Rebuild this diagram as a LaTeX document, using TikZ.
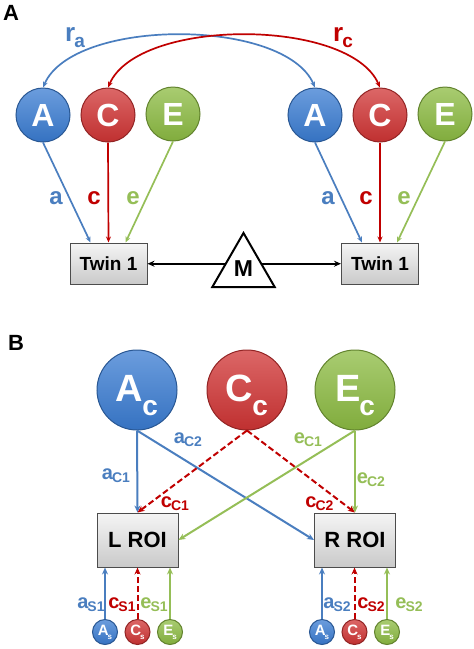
\documentclass[tikz,border=0pt]{standalone}
\usepackage{fontspec}
\setmainfont{Liberation Sans}
\usetikzlibrary{shapes,arrows.meta,calc}

\definecolor{acol}{HTML}{3A7CD2}
\definecolor{ccol}{HTML}{D03434}
\definecolor{ecol}{HTML}{8CBB42}
\definecolor{aline}{HTML}{4A7EBF}
\definecolor{cline}{HTML}{C00000}
\definecolor{eline}{HTML}{95BE57}

\newcommand{\fsz}[1]{\fontsize{#1}{#1}\selectfont\bfseries}
\newcommand{\sublab}[4]{#1\kern-1pt\raisebox{-#4pt}{\fsz{#3}#2}}

\begin{document}
\begin{tikzpicture}[x=1pt,y=-1pt,
    ball/.style={circle,inner sep=0pt,top color=#1!75!white,bottom color=#1!92!black,draw=#1!70!black,line width=1pt,text=white},
    ballA/.style={minimum size=54pt,font=\fsz{32}},
    ballB/.style={minimum size=80pt,font=\fsz{38},text height=37pt,text depth=15pt},
    ballS/.style={minimum size=25pt,font=\fsz{15}},
    roi/.style={rectangle,top color=gray!8,bottom color=gray!42,draw=gray!60!black,line width=1pt,font=\fsz{#1}},
    arr/.style={-{Stealth[length=6pt,width=5pt]},line width=1.7pt},
    arrtwo/.style={{Stealth[length=6pt,width=5pt]}-{Stealth[length=6pt,width=5pt]},line width=1.7pt},
    arrK/.style={-{Stealth[length=7pt,width=6pt]},line width=1.8pt,black},
    arrB/.style={-{Stealth[length=7pt,width=6pt]},line width=2pt},
    dashred/.style={dash pattern=on 6pt off 3pt},
    lab/.style={font=\fsz{#1},inner sep=0pt}
  ]
  \useasboundingbox (0,0) rectangle (474,649);

  % panel A
  \node[lab=22] (pA) at (11,12.5) {A};
  \node[ball=acol,ballA] (A1) at (43,115) {A};
  \node[ball=ccol,ballA] (C1) at (108,115) {C};
  \node[ball=ecol,ballA] (E1) at (173,114) {E};
  \node[ball=acol,ballA] (A2) at (315,115) {A};
  \node[ball=ccol,ballA] (C2) at (380,115) {C};
  \node[ball=ecol,ballA] (E2) at (445,114) {E};
  \node[roi=19,minimum width=77pt,minimum height=41pt] (T1) at (108.5,263.5) {Twin 1};
  \node[roi=19,minimum width=77pt,minimum height=41pt] (T2) at (380,263.5) {Twin 1};
  \node[regular polygon,regular polygon sides=3,draw,fill=white,line width=2pt,
        minimum size=72pt,inner sep=0pt,font=\fsz{23}] (M) at (243.5,269) {M};
  \coordinate (mL) at ($(M.corner 1)!0.574!(M.corner 2)$);
  \coordinate (mR) at ($(M.corner 1)!0.574!(M.corner 3)$);
  \draw[arrK] (mL) -- (T1.east |- mL);
  \draw[arrK] (mR) -- (T2.west |- mR);

  \draw[arr,aline] (A1.south) -- ([xshift=-18pt]T1.north);
  \draw[arr,cline] (C1.south) -- (T1.north);
  \draw[arr,eline] (E1.south) -- ([xshift=17pt]T1.north);
  \draw[arr,aline] (A2.south) -- ([xshift=-18pt]T2.north);
  \draw[arr,cline] (C2.south) -- (T2.north);
  \draw[arr,eline] (E2.south) -- ([xshift=17pt]T2.north);
  \node[lab=24,text=aline] (a1) at (56,198) {a};
  \node[lab=24,text=cline] (c1) at (94,198) {c};
  \node[lab=24,text=eline] (e1) at (133,198) {e};
  \node[lab=24,text=aline] (a2) at (328,198) {a};
  \node[lab=24,text=cline] (c2) at (366,198) {c};
  \node[lab=24,text=eline] (e2) at (404,198) {e};

  \draw[arrtwo,aline] (A1.north) .. controls +(30,-70) and +(-30,-70) .. (A2.north);
  \draw[arrtwo,cline] (C1.north) .. controls +(30,-70) and +(-30,-70) .. (C2.north);
  \node[lab=26,text=aline] (ra) at (75,38) {\sublab{r}{a}{19}{6}};
  \node[lab=26,text=cline] (rc) at (343,38) {\sublab{r}{c}{19}{6}};

  % panel B
  \node[lab=22] (pB) at (16,343) {B};
  \node[ball=acol,ballB] (Ac) at (137,390) {\sublab{A}{c}{28}{14}};
  \node[ball=ccol,ballB] (Cc) at (247,390) {\sublab{C}{c}{28}{14}};
  \node[ball=ecol,ballB] (Ec) at (355,390) {\sublab{E}{c}{28}{14}};
  \node[roi=22,minimum width=81pt,minimum height=54pt] (L) at (137.5,540) {L ROI};
  \node[roi=22,minimum width=81pt,minimum height=54pt] (R) at (355,540) {R ROI};

  \draw[arrB,aline] (Ac.south) -- (L.north);
  \draw[arrB,aline] (Ac.south) -- (R.west);
  \draw[arrB,cline,dashred] (Cc.south) -- (L.north);
  \draw[arrB,cline,dashred] (Cc.south) -- (R.north);
  \draw[arrB,eline] (Ec.south) -- (L.east);
  \draw[arrB,eline] (Ec.south) -- (R.north);
  \node[lab=20,text=aline] (aC2) at (188,440) {\sublab{a}{C2}{14}{3}};
  \node[lab=20,text=eline] (eC1) at (308,440) {\sublab{e}{C1}{14}{3}};
  \node[lab=20,text=aline] (aC1) at (116,476) {\sublab{a}{C1}{14}{3}};
  \node[lab=20,text=eline] (eC2) at (371,480) {\sublab{e}{C2}{14}{3}};
  \node[lab=20,text=cline] (cC1) at (175,504) {\sublab{c}{C1}{14}{3}};
  \node[lab=20,text=cline] (cC2) at (319.5,504) {\sublab{c}{C2}{14}{3}};

  \node[ball=acol,ballS] (As1) at (105,632) {\sublab{A}{s}{8}{4}};
  \node[ball=ccol,ballS] (Cs1) at (137.5,632) {\sublab{C}{s}{8}{4}};
  \node[ball=ecol,ballS] (Es1) at (170,632) {\sublab{E}{s}{8}{4}};
  \node[ball=acol,ballS] (As2) at (322,632) {\sublab{A}{s}{8}{4}};
  \node[ball=ccol,ballS] (Cs2) at (354.5,632) {\sublab{C}{s}{8}{4}};
  \node[ball=ecol,ballS] (Es2) at (387,632) {\sublab{E}{s}{8}{4}};
  \draw[arrB,aline] (As1) -- (As1 |- L.south);
  \draw[arrB,cline,dashred] (Cs1) -- (Cs1 |- L.south);
  \draw[arrB,eline] (Es1) -- (Es1 |- L.south);
  \draw[arrB,aline] (As2) -- (As2 |- R.south);
  \draw[arrB,cline,dashred] (Cs2) -- (Cs2 |- R.south);
  \draw[arrB,eline] (Es2) -- (Es2 |- R.south);
  \node[lab=20,text=aline] (aS1) at (91,605) {\sublab{a}{S1}{14}{3}};
  \node[lab=20,text=cline] (cS1) at (122,605) {\sublab{c}{S1}{14}{3}};
  \node[lab=20,text=eline] (eS1) at (154,605) {\sublab{e}{S1}{14}{3}};
  \node[lab=20,text=aline] (aS2) at (337,605) {\sublab{a}{S2}{14}{3}};
  \node[lab=20,text=cline] (cS2) at (371,605) {\sublab{c}{S2}{14}{3}};
  \node[lab=20,text=eline] (eS2) at (409,605) {\sublab{e}{S2}{14}{3}};
\end{tikzpicture}
\end{document}
